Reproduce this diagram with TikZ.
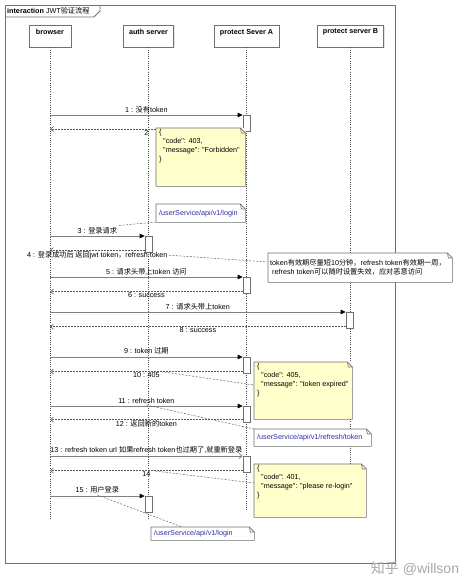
\documentclass[tikz,border=0pt]{standalone}
\usepackage{fontspec}
\newfontfamily\latf{Liberation Sans}
\newfontfamily\cjkf{Noto Sans CJK SC}
\newcommand\zh[1]{{\cjkf #1}}
\usetikzlibrary{arrows.meta,calc,shadows}
\definecolor{noteY}{HTML}{FFFFCC}
\definecolor{lineG}{HTML}{707070}
\definecolor{msgG}{HTML}{808080}
\definecolor{blueT}{HTML}{2E2EA8}
\definecolor{wm}{HTML}{A8A8A8}
\newcommand\ntext[3]{\begin{minipage}[c][#2][t]{#1}\vspace*{1pt}\leftskip=3pt\relax #3\end{minipage}}
\newcommand\lntext[3]{\begin{minipage}[c][#2][c]{#1}\hspace*{3pt}#3\end{minipage}}
\newcommand\noteframe[1]{%
  \fill[white] ($(#1.north -| #1.east)+(-5pt,0pt)$) -- (#1.north -| #1.east) -- ($(#1.north -| #1.east)+(0pt,-5pt)$) -- cycle;
  \draw[noteline] (#1.north west) -- ($(#1.north -| #1.east)+(-5pt,0pt)$) -- ($(#1.north -| #1.east)+(0pt,-5pt)$) -- (#1.south east) -- (#1.south west) -- cycle;
  \draw[noteline] ($(#1.north -| #1.east)+(-5pt,0pt)$) -- ($(#1.north -| #1.east)+(-4pt,-5pt)$) -- ($(#1.north -| #1.east)+(0pt,-5pt)$);}
\tikzset{
  frame/.style={draw=lineG, line width=0.8pt},
  head/.style={draw=lineG, fill=white, line width=0.7pt, minimum height=22pt, inner sep=0pt, text depth=9pt,
    font=\latf\bfseries\fontsize{7.2}{9}\selectfont,
    drop shadow={shadow xshift=1.2pt, shadow yshift=-1.2pt, opacity=0.2}},
  lifeline/.style={draw=black!70, line width=0.6pt, dash pattern=on 1pt off 1.2pt},
  act/.style={draw=lineG, fill=white, line width=0.6pt, inner sep=0pt, minimum width=7pt, minimum height=16pt, anchor=north},
  msg/.style={draw=msgG, line width=0.8pt, -{Triangle[length=5pt,width=4.5pt,color=black]}},
  amsg/.style={draw=msgG, line width=0.8pt, -{Straight Barb[length=3pt,width=5pt]}},
  ret/.style={draw=black!65, line width=0.6pt, dash pattern=on 1.5pt off 1.5pt, -{Straight Barb[length=3pt,width=5pt]}},
  lbla/.style={anchor=south, inner sep=1pt, yshift=1pt},
  lblb/.style={anchor=north, inner sep=1pt},
  conn/.style={draw=black!60, line width=0.5pt, dash pattern=on 2pt off 1.5pt},
  note/.style={anchor=north west, inner sep=0pt, fill=noteY},
  wnote/.style={anchor=north west, inner sep=0pt, fill=white},
  noteline/.style={draw=lineG, line width=0.6pt},
}
\begin{document}
\begin{tikzpicture}[x=1pt,y=-1pt, font=\latf\fontsize{7.2}{9}\selectfont]
\fill[white] (0,0) rectangle (474,586);
\useasboundingbox (0,0) rectangle (474,586);

% frame
\node[frame, anchor=north west, minimum width=390pt, minimum height=558pt, inner sep=0pt] (fr) at (5,5) {};
\node[anchor=west, inner sep=2pt] (ft) at (5,11) {\textbf{interaction} JWT\zh{验证流程}};
\draw[frame] ($(fr.north west)+(0pt,-12pt)$) -- ++(89pt,0pt) -- ++(6pt,6pt) -- ++(0pt,6pt);

% heads
\node[head, minimum width=42pt] (hb) at (50,36) {browser};
\node[head, minimum width=50pt] (ha) at (148.5,36) {auth server};
\node[head, minimum width=65pt] (hA) at (246.5,36) {protect Sever A};
\node[head, minimum width=66pt] (hB) at (350.5,36) {protect server B};

% lifelines
\draw[lifeline] (hb.south) -- (hb.south |- 0,519);
\draw[lifeline] (ha.south) -- (ha.south |- 0,519);
\draw[lifeline] (hA.south) -- (hA.south |- 0,510);
\draw[lifeline] (hB.south) -- (hB.south |- 0,510);

% activations
\node[act] (a1) at (246.5,115) {};
\node[act] (a3) at (148.5,236) {};
\node[act] (a5) at (246.5,277) {};
\node[act] (a7) at (349.5,312) {};
\node[act] (a9) at (246.5,357) {};
\node[act] (a11) at (246.5,406) {};
\node[act] (a13) at (246.5,456) {};
\node[act] (a15) at (148.5,496) {};

% messages
\draw[msg] (hb.south |- a1.north) -- node[lbla] (l1) {1 : \zh{没有}token} (a1.north west);
\coordinate (r2) at ($(a1.south west)+(0pt,2.5pt)$);
\draw[ret] (r2) -- node[lblb] (l2) {2} (hb.south |- r2);

\draw[msg] (hb.south |- a3.north) -- node[lbla] (l3) {3 : \zh{登录请求}} (a3.north west);
\coordinate (r4) at ($(a3.south west)+(0pt,2.5pt)$);
\draw[ret] (r4) -- node[lblb] (l4) {4 : \zh{登录成功后 返回}jwt token\zh{，}refresh token} (hb.south |- r4);

\draw[msg] (hb.south |- a5.north) -- node[lbla] (l5) {5 : \zh{请求头带上}token \zh{访问}} (a5.north west);
\coordinate (r6) at ($(a5.south west)+(0pt,2pt)$);
\draw[ret] (r6) -- node[lblb] (l6) {6 : success} (hb.south |- r6);

\draw[msg] (hb.south |- a7.north) -- node[lbla] (l7) {7 : \zh{请求头带上}token} (a7.north west);
\coordinate (r8) at ($(a7.south west)+(0pt,2pt)$);
\draw[ret] (r8) -- node[lblb] (l8) {8 : success} (hb.south |- r8);

\draw[msg] (hb.south |- a9.north) -- node[lbla] (l9) {9 : token \zh{过期}} (a9.north west);
\coordinate (r10) at ($(a9.south west)+(0pt,2pt)$);
\draw[ret] (r10) -- node[lblb] (l10) {10 : 405} (hb.south |- r10);

\draw[msg] (hb.south |- a11.north) -- node[lbla] (l11) {11 : refresh token} (a11.north west);
\coordinate (r12) at ($(a11.south west)+(0pt,3pt)$);
\draw[ret] (r12) -- node[lblb] (l12) {12 : \zh{返回新的}token} (hb.south |- r12);

\draw[amsg] (hb.south |- a13.north) -- node[lbla] (l13) {13 : refresh token url \zh{如果}refresh token\zh{也过期了},\zh{就重新登录}} (a13.north west);
\coordinate (r14) at ($(a13.south west)+(0pt,2pt)$);
\draw[ret] (r14) -- node[lblb] (l14) {14} (hb.south |- r14);

\draw[msg] (hb.south |- a15.north) -- node[lbla] (l15) {15 : \zh{用户登录}} (a15.north west);

% connectors to notes
\draw[conn] (156,222) -- (l3.north east);
\draw[conn] (l4.east) -- (268,262);
\draw[conn] (l10.north east) -- (254,385);
\draw[conn] (l11.south) -- (254,429);
\draw[conn] (l14.north east) -- (254,483);
\draw[conn] (l15.south) -- (182,527);

% notes
\node[note] (n403) at (156,128) {\ntext{89pt}{58pt}{\{\\\hspace*{4pt}"code": 403,\\\hspace*{4pt}"message": "Forbidden"\\\}}};
\noteframe{n403}
\node[wnote] (nl1) at (156,204) {\lntext{89pt}{18pt}{\textcolor{blueT}{/userService/api/v1/login}}};
\noteframe{nl1}
\node[wnote] (nt) at (268,253) {\begin{minipage}[c][29pt][c]{184pt}\leftskip=2pt\relax token\zh{有效期尽量短}10\zh{分钟，}refresh token\zh{有效期一周，}\\\hspace*{2pt}refresh token\zh{可以随时设置失效，应对恶意访问}\end{minipage}};
\noteframe{nt}
\node[note] (n405) at (254,362) {\ntext{98pt}{57pt}{\{\\\hspace*{4pt}"code": 405,\\\hspace*{4pt}"message": "token expired"\\\}}};
\noteframe{n405}
\node[wnote] (nr) at (254,429) {\lntext{117pt}{17pt}{\textcolor{blueT}{/userService/api/v1/refresh/token}}};
\noteframe{nr}
\node[note] (n401) at (254,464) {\ntext{112pt}{53pt}{\{\\\hspace*{4pt}"code": 401,\\\hspace*{4pt}"message": "please re-login"\\\}}};
\noteframe{n401}
\node[wnote] (nl2) at (151,527) {\lntext{103pt}{13pt}{\textcolor{blueT}{/userService/api/v1/login}}};
\noteframe{nl2}

% watermark
\node[text=wm, font=\latf\fontsize{14}{14}\selectfont, inner sep=0pt] (wmk) at (415,569) {\zh{知乎} @willson};
\end{tikzpicture}
\end{document}
